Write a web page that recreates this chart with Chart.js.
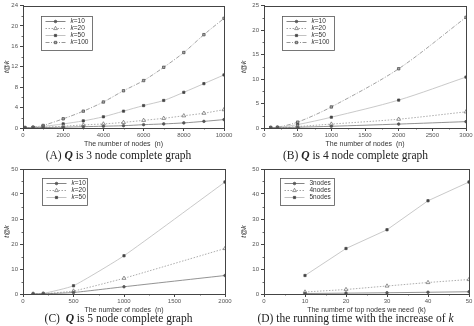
<!DOCTYPE html>
<html>
<head>
<meta charset="utf-8">
<script src="https://cdn.jsdelivr.net/npm/chart.js@4/dist/chart.umd.min.js"></script>
<style>
  html, body { margin: 0; padding: 0; background: #fff; }
  #wrap { position: relative; width: 474px; height: 326px; overflow: hidden; }
  .panel { position: absolute; }
  .caption {
    position: absolute; width: 237px; text-align: center;
    font-family: "Liberation Serif", "DejaVu Serif", serif;
    font-size: 11.5px; line-height: 14px; color: #222; white-space: nowrap;
  }
  .caption b { font-style: italic; }
</style>
</head>
<body>
<div id="wrap">
  <div class="panel" style="left:0;top:0;width:237px;height:150px"><canvas id="chartA"></canvas></div>
  <div class="panel" style="left:237px;top:0;width:237px;height:150px"><canvas id="chartB"></canvas></div>
  <div class="panel" style="left:0;top:163px;width:237px;height:153px"><canvas id="chartC"></canvas></div>
  <div class="panel" style="left:237px;top:163px;width:237px;height:153px"><canvas id="chartD"></canvas></div>
  <div class="caption" style="left:0;top:148px">(A) <b>Q</b> is 3 node complete graph</div>
  <div class="caption" style="left:237px;top:148px">(B) <b>Q</b> is 4 node complete graph</div>
  <div class="caption" style="left:0;top:311px">(C)&nbsp; <b>Q</b> is 5 node complete graph</div>
  <div class="caption" style="left:237px;top:311px">(D) the running time with the increase of <i>k</i></div>
</div>
<script>
// (A) 3-node pattern, n from 100 to 10000
const nodesA = [100, 500, 1000, 2000, 3000, 4000, 5000, 6000, 7000, 8000, 9000, 10000];
const a_k10 = [0.02, 0.05, 0.08, 0.15, 0.25, 0.35, 0.45, 0.65, 0.8, 1.0, 1.3, 1.65];
const a_k20 = [0.03, 0.08, 0.15, 0.35, 0.6, 0.8, 1.1, 1.5, 1.9, 2.4, 2.9, 3.6];
const a_k50 = [0.04, 0.1, 0.3, 0.8, 1.4, 2.2, 3.3, 4.4, 5.4, 7.0, 8.7, 10.4];
const a_k100 = [0.05, 0.15, 0.5, 1.8, 3.3, 5.1, 7.3, 9.3, 11.9, 14.8, 18.3, 21.5];

// (B) 4-node pattern
const nodesB = [100, 200, 500, 1000, 2000, 3000];
const b_k10 = [0.02, 0.03, 0.15, 0.35, 0.8, 1.3];
const b_k20 = [0.03, 0.05, 0.3, 0.8, 1.8, 3.3];
const b_k50 = [0.05, 0.1, 0.7, 2.2, 5.7, 10.4];
const b_k100 = [0.1, 0.15, 1.2, 4.3, 12.1, 22.6];

// (C) 5-node pattern
const nodesC = [100, 200, 500, 1000, 2000];
const c_k10 = [0.03, 0.05, 0.6, 2.9, 7.4];
const c_k20 = [0.05, 0.1, 1.2, 6.3, 18.2];
const c_k50 = [0.1, 0.2, 3.3, 15.3, 44.8];

// (D) time vs k
const topK = [10, 20, 30, 40, 50];
const d_3nodes = [0.2, 0.35, 0.5, 0.7, 0.9];
const d_4nodes = [0.8, 1.8, 3.2, 4.6, 5.8];
const d_5nodes = [7.4, 18.2, 25.7, 37.3, 44.8];

const FONT = "'Liberation Sans', Arial, sans-serif";
const AXIS = "#444";

const styles = {
  k10: { borderColor: "#777", borderDash: [], pointStyle: "circle", pointRadius: 1.3, pointBackgroundColor: "#555", pointBorderColor: "#555" },
  k20: { borderColor: "#999", borderDash: [1.5, 1.5], pointStyle: "triangle", pointRadius: 2.2, pointBackgroundColor: "#fff", pointBorderColor: "#666" },
  k50: { borderColor: "#bbb", borderDash: [], pointStyle: "rect", pointRadius: 1.6, pointBackgroundColor: "#444", pointBorderColor: "#444" },
  k100: { borderColor: "#8a8a8a", borderDash: [4, 1.5, 1, 1.5], pointStyle: "rect", pointRadius: 1.7, pointBackgroundColor: "#aaa", pointBorderColor: "#444" },
};

function series(label, xs, ys, st, tension) {
  return Object.assign({
    label,
    data: xs.map((x, i) => ({ x, y: ys[i] })),
    borderWidth: 0.8,
    pointBorderWidth: 0.7,
    tension: tension === undefined ? 0.3 : tension,
    fill: false,
  }, st);
}

// minor ticks halfway between the labelled ones
function drawMinor(ctx, scale, horizontal) {
  const t = scale.ticks;
  for (let i = 0; i < t.length - 1; i++) {
    const p = scale.getPixelForValue((t[i].value + t[i + 1].value) / 2);
    ctx.beginPath();
    if (horizontal) {
      ctx.moveTo(Math.round(p) + 0.5, scale.top);
      ctx.lineTo(Math.round(p) + 0.5, scale.top + 1.5);
    } else {
      ctx.moveTo(scale.right, Math.round(p) + 0.5);
      ctx.lineTo(scale.right - 1.5, Math.round(p) + 0.5);
    }
    ctx.stroke();
  }
}

// draws the frame round the plot and the boxed legend inside it
const framePlugin = {
  id: "frameLegend",
  afterDraw(chart, args, opts) {
    const { ctx, chartArea: ca } = chart;
    ctx.save();
    ctx.strokeStyle = AXIS;
    ctx.lineWidth = 1;
    ctx.strokeRect(Math.round(ca.left) + 0.5, Math.round(ca.top) + 0.5, Math.round(ca.right - ca.left), Math.round(ca.bottom - ca.top));
    ctx.lineWidth = 0.8;
    drawMinor(ctx, chart.scales.x, true);
    drawMinor(ctx, chart.scales.y, false);

    const sets = chart.data.datasets;
    const x0 = Math.round(ca.left + opts.x) + 0.5;
    const y0 = Math.round(ca.top + opts.y) + 0.5;
    const rowH = 7;
    const h = sets.length * rowH + 6;
    ctx.strokeStyle = "#555";
    ctx.lineWidth = 0.8;
    ctx.strokeRect(x0, y0, opts.w, h);
    sets.forEach((ds, i) => {
      const cy = y0 + 5 + i * rowH;
      const lx = x0 + 4;
      ctx.strokeStyle = ds.borderColor;
      ctx.lineWidth = 0.9;
      ctx.setLineDash(ds.borderDash || []);
      ctx.beginPath();
      ctx.moveTo(lx, cy);
      ctx.lineTo(lx + 20, cy);
      ctx.stroke();
      ctx.setLineDash([]);
      ctx.fillStyle = ds.pointBackgroundColor;
      ctx.strokeStyle = ds.pointBorderColor;
      ctx.lineWidth = 0.7;
      Chart.helpers.drawPoint(ctx, { pointStyle: ds.pointStyle, radius: ds.pointRadius, rotation: 0, borderWidth: 0.7 }, lx + 10, cy);
      ctx.fillStyle = "#333";
      ctx.textBaseline = "middle";
      let tx = lx + 25;
      if (opts.italicK) {
        ctx.font = "italic 6.5px " + FONT;
        ctx.fillText("k", tx, cy);
        tx += ctx.measureText("k").width;
        ctx.font = "6.5px " + FONT;
        ctx.fillText(ds.label.slice(1), tx, cy);
      } else {
        ctx.font = "6.5px " + FONT;
        ctx.fillText(ds.label, tx, cy);
      }
    });
    ctx.restore();
  },
};

const plain = (v) => String(v);

function makeChart(id, datasets, xCfg, yCfg, layout, legend) {
  return new Chart(document.getElementById(id), {
    type: "line",
    data: { datasets },
    plugins: [framePlugin],
    options: {
      responsive: true,
      maintainAspectRatio: false,
      animation: false,
      layout: { padding: { top: layout.top, right: layout.right, left: 0, bottom: 0 } },
      plugins: {
        legend: { display: false },
        tooltip: { enabled: false },
        frameLegend: legend,
      },
      scales: {
        x: {
          type: "linear",
          min: xCfg.min, max: xCfg.max,
          afterFit: (s) => { s.height = layout.xh; },
          ticks: { stepSize: xCfg.step, callback: plain, color: "#555", font: { family: FONT, size: 6 }, padding: 1, maxRotation: 0 },
          grid: { drawOnChartArea: false, tickLength: 3, color: AXIS },
          border: { color: AXIS },
          title: { display: true, text: xCfg.title, color: "#333", font: { family: FONT, size: 7 }, padding: { top: 0, bottom: 2 } },
        },
        y: {
          min: yCfg.min, max: yCfg.max,
          afterFit: (s) => { s.width = layout.yw; },
          ticks: { stepSize: yCfg.step, callback: plain, color: "#555", font: { family: FONT, size: 6 }, padding: 2 },
          grid: { drawOnChartArea: false, tickLength: 3, color: AXIS },
          border: { color: AXIS },
          title: { display: true, text: "t@k", color: "#333", font: { family: FONT, size: 7, style: "italic" }, padding: { top: 3, bottom: 0 } },
        },
      },
    },
  });
}

makeChart("chartA", [
  series("k=10", nodesA, a_k10, styles.k10),
  series("k=20", nodesA, a_k20, styles.k20),
  series("k=50", nodesA, a_k50, styles.k50),
  series("k=100", nodesA, a_k100, styles.k100),
], { min: 0, max: 10000, step: 2000, title: "The number of nodes  (n)" },
   { min: 0, max: 24, step: 4 },
   { top: 3, right: 13, xh: 22, yw: 23 },
   { x: 18, y: 10, w: 51, italicK: true });

makeChart("chartB", [
  series("k=10", nodesB, b_k10, styles.k10),
  series("k=20", nodesB, b_k20, styles.k20),
  series("k=50", nodesB, b_k50, styles.k50),
  series("k=100", nodesB, b_k100, styles.k100),
], { min: 0, max: 3000, step: 500, title: "The number of nodes  (n)" },
   { min: 0, max: 25, step: 5 },
   { top: 3, right: 8, xh: 22, yw: 27 },
   { x: 18, y: 10, w: 52, italicK: true });

makeChart("chartC", [
  series("k=10", nodesC, c_k10, styles.k10, 0.15),
  series("k=20", nodesC, c_k20, styles.k20, 0.15),
  series("k=50", nodesC, c_k50, styles.k50, 0.15),
], { min: 0, max: 2000, step: 500, title: "The number of nodes  (n)" },
   { min: 0, max: 50, step: 10 },
   { top: 6, right: 12, xh: 22, yw: 23 },
   { x: 19, y: 9, w: 45, italicK: true });

makeChart("chartD", [
  series("3nodes", topK, d_3nodes, styles.k10, 0),
  series("4nodes", topK, d_4nodes, styles.k20, 0),
  series("5nodes", topK, d_5nodes, styles.k50, 0),
], { min: 0, max: 50, step: 10, title: "The number of top nodes we need  (k)" },
   { min: 0, max: 50, step: 10 },
   { top: 6, right: 5, xh: 22, yw: 27 },
   { x: 16, y: 9, w: 54, italicK: false });
</script>
</body>
</html>
